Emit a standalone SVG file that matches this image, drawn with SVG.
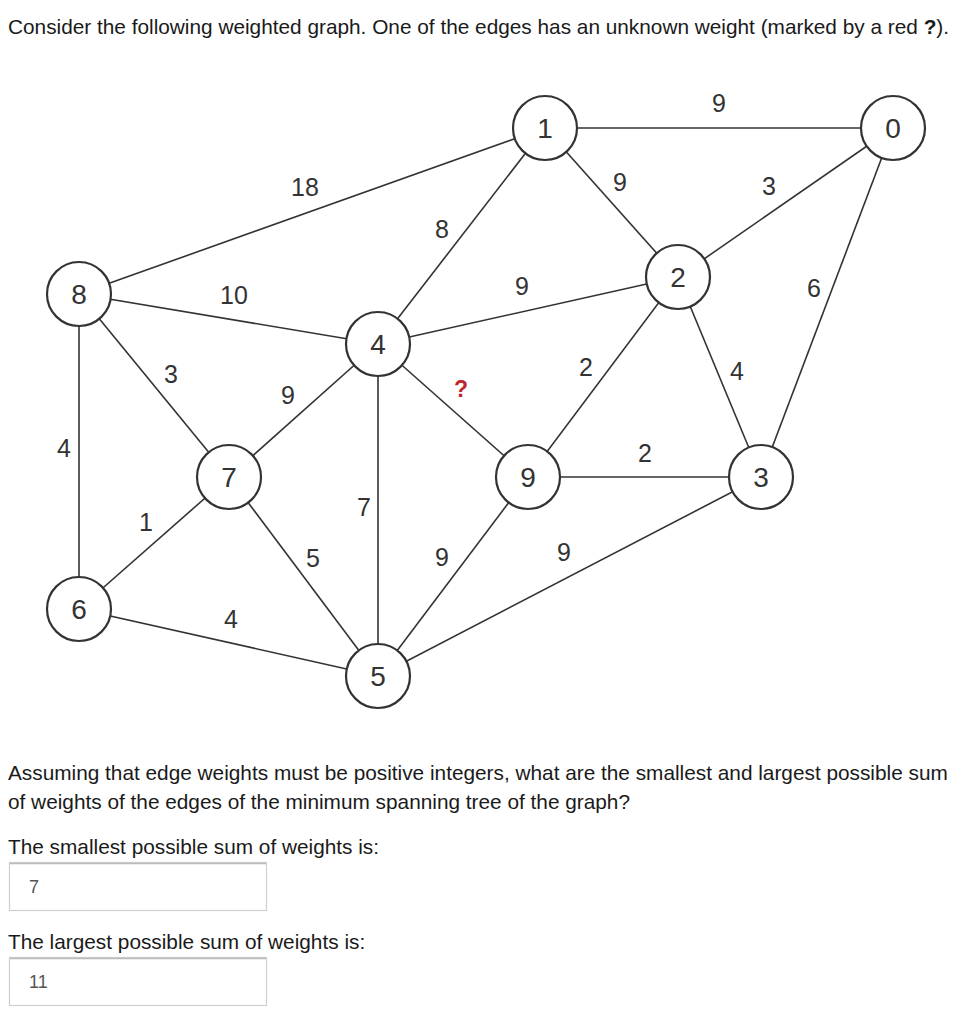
<svg xmlns="http://www.w3.org/2000/svg" width="962" height="1024" viewBox="0 0 962 1024">
<style>
.txt{font-family:"Liberation Sans",Arial,sans-serif;fill:#1a1a1a;font-size:20.8px}
.edge{stroke:#333;stroke-width:1.6;fill:none}
.node circle{fill:#fff;stroke:#333;stroke-width:2.2}
.nl{font-family:"Liberation Sans",Arial,sans-serif;font-size:28px;fill:#333;text-anchor:middle;dominant-baseline:central}
.el{font-family:"Liberation Sans",Arial,sans-serif;font-size:25px;fill:#333;text-anchor:middle;dominant-baseline:central}
.q{fill:#c0262d;font-weight:bold;font-size:23px}
.box{fill:#fff;stroke:#cfcfcf;stroke-width:1.2}
.bt{font-family:"Liberation Sans",Arial,sans-serif;font-size:18px;fill:#555}
</style>
<rect width="962" height="1024" fill="#fff"/>
<text class="txt" x="8" y="34">Consider the following weighted graph. One of the edges has an unknown weight (marked by a red <tspan font-weight="bold">?</tspan>).</text>

<g id="connectors">
<line class="edge" x1="79" y1="294" x2="545" y2="128"/>
<line class="edge" x1="79" y1="294" x2="378" y2="344"/>
<line class="edge" x1="79" y1="294" x2="229" y2="477"/>
<line class="edge" x1="79" y1="294" x2="79" y2="609"/>
<line class="edge" x1="79" y1="609" x2="229" y2="477"/>
<line class="edge" x1="79" y1="609" x2="378" y2="676"/>
<line class="edge" x1="229" y1="477" x2="378" y2="344"/>
<line class="edge" x1="229" y1="477" x2="378" y2="676"/>
<line class="edge" x1="378" y1="344" x2="378" y2="676"/>
<line class="edge" x1="378" y1="344" x2="545" y2="128"/>
<line class="edge" x1="378" y1="344" x2="678" y2="277"/>
<line class="edge" x1="378" y1="344" x2="528" y2="477"/>
<line class="edge" x1="528" y1="477" x2="378" y2="676"/>
<line class="edge" x1="528" y1="477" x2="678" y2="277"/>
<line class="edge" x1="528" y1="477" x2="761" y2="477"/>
<line class="edge" x1="378" y1="676" x2="761" y2="477"/>
<line class="edge" x1="545" y1="128" x2="678" y2="277"/>
<line class="edge" x1="545" y1="128" x2="893" y2="128"/>
<line class="edge" x1="678" y1="277" x2="893" y2="128"/>
<line class="edge" x1="678" y1="277" x2="761" y2="477"/>
<line class="edge" x1="893" y1="128" x2="761" y2="477"/>
<text class="el" x="305" y="187">18</text>
<text class="el" x="234" y="295">10</text>
<text class="el" x="171" y="374">3</text>
<text class="el" x="288" y="395">9</text>
<text class="el" x="442" y="229">8</text>
<text class="el q" x="461" y="389">?</text>
<text class="el" x="522" y="286">9</text>
<text class="el" x="620" y="182">9</text>
<text class="el" x="719" y="103">9</text>
<text class="el" x="769" y="186">3</text>
<text class="el" x="814" y="288">6</text>
<text class="el" x="586" y="367">2</text>
<text class="el" x="737" y="371">4</text>
<text class="el" x="64" y="448">4</text>
<text class="el" x="146" y="522">1</text>
<text class="el" x="364" y="507">7</text>
<text class="el" x="313" y="558">5</text>
<text class="el" x="442" y="557">9</text>
<text class="el" x="564" y="552">9</text>
<text class="el" x="645" y="453">2</text>
<text class="el" x="231" y="619">4</text>
</g>

<g id="node-8" class="node"><circle cx="79" cy="294" r="32"/><text class="nl" x="79" y="294">8</text></g>
<g id="node-4" class="node"><circle cx="378" cy="344" r="32"/><text class="nl" x="378" y="344">4</text></g>
<g id="node-1" class="node"><circle cx="545" cy="128" r="32"/><text class="nl" x="545" y="128">1</text></g>
<g id="node-0" class="node"><circle cx="893" cy="128" r="32"/><text class="nl" x="893" y="128">0</text></g>
<g id="node-2" class="node"><circle cx="678" cy="277" r="32"/><text class="nl" x="678" y="277">2</text></g>
<g id="node-7" class="node"><circle cx="229" cy="477" r="32"/><text class="nl" x="229" y="477">7</text></g>
<g id="node-6" class="node"><circle cx="79" cy="609" r="32"/><text class="nl" x="79" y="609">6</text></g>
<g id="node-5" class="node"><circle cx="378" cy="676" r="32"/><text class="nl" x="378" y="676">5</text></g>
<g id="node-9" class="node"><circle cx="528" cy="477" r="32"/><text class="nl" x="528" y="477">9</text></g>
<g id="node-3" class="node"><circle cx="761" cy="477" r="32"/><text class="nl" x="761" y="477">3</text></g>

<text class="txt" x="8" y="780">Assuming that edge weights must be positive integers, what are the smallest and largest possible sum</text>
<text class="txt" x="8" y="809">of weights of the edges of the minimum spanning tree of the graph?</text>
<text class="txt" x="8" y="854">The smallest possible sum of weights is:</text>
<rect class="box" x="9.5" y="862.5" width="257" height="48"/>
<line x1="10" y1="863.5" x2="266" y2="863.5" stroke="#bbb" stroke-width="1.5"/>
<text class="bt" x="29" y="893">7</text>
<text class="txt" x="8" y="949">The largest possible sum of weights is:</text>
<rect class="box" x="9.5" y="957.5" width="257" height="48"/>
<line x1="10" y1="958.5" x2="266" y2="958.5" stroke="#bbb" stroke-width="1.5"/>
<text class="bt" x="29" y="988">11</text>
</svg>
